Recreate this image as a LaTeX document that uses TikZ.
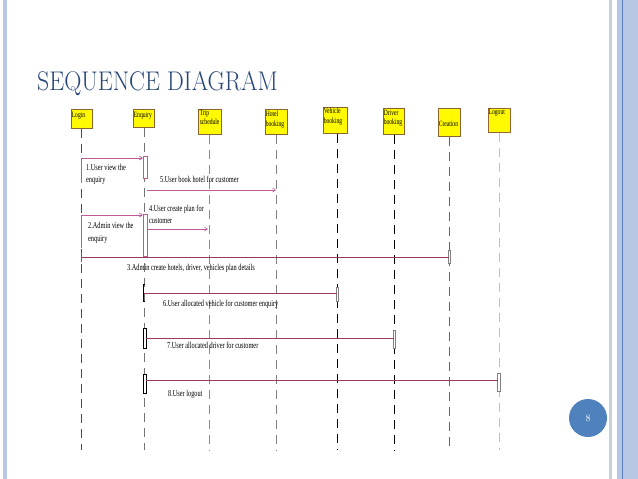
\documentclass[tikz,border=0pt]{standalone}
\usepackage{fontspec}
\usetikzlibrary{arrows.meta}
\newfontfamily\cond[FakeStretch=0.7]{Liberation Serif}
\definecolor{titleblue}{RGB}{40,70,120}
\definecolor{barblue}{RGB}{184,200,228}
\definecolor{bargray}{RGB}{200,206,220}
\definecolor{lineblue}{RGB}{90,125,190}
\definecolor{msgred}{RGB}{150,60,90}
\definecolor{msgpink}{RGB}{190,90,150}
\definecolor{headfill}{RGB}{255,250,0}
\definecolor{headdraw}{RGB}{140,100,50}
\definecolor{pagecircle}{RGB}{79,129,189}
\tikzset{
  headbox/.style={draw=headdraw, fill=headfill, line width=0.8pt, inner sep=0pt},
  headtxt/.style={font=\cond\fontsize{8}{9.5}\selectfont, align=left, anchor=north west, inner sep=1pt},
  lifeline/.style={dash pattern=on 9pt off 6pt, line width=0.7pt},
  msg/.style={draw=msgred, line width=0.6pt},
  msgarrow/.style={msg, -{Straight Barb[length=3pt,width=4pt]}},
  selfbox/.style={draw=msgpink, line width=0.7pt, -{Straight Barb[length=3pt,width=4pt]}},
  actpink/.style={draw=msgpink, line width=0.7pt, fill=white},
  actblack/.style={draw=black, line width=0.6pt, fill=white},
  actgray/.style={draw=gray, line width=0.6pt, fill=white},
  lbl/.style={font=\cond\fontsize{9}{12.5}\selectfont, anchor=base west, inner sep=0pt, align=left},
}
\begin{document}
\begin{tikzpicture}[x=1pt,y=-1pt]
\useasboundingbox (0,0) rectangle (638,479);
% slide frame
\fill[barblue] (3,0) rectangle (7,479);
\fill[bargray] (609,0) rectangle (612,479);
\fill[barblue] (617,0) rectangle (638,479);
\draw[lineblue, line width=0.8pt] (622,0) -- (622,479);
% title
\node[anchor=base west, inner sep=0pt, text=titleblue, font=\fontsize{27}{27}\selectfont] (title) at (37,90) {\scalebox{0.88}[1]{SEQUENCE DIAGRAM}};

% lifeline heads
\node[headbox, minimum width=21pt, minimum height=19pt, anchor=north] (hLogin) at (81.5,109) {};
\node[headbox, minimum width=21pt, minimum height=18pt, anchor=north] (hEnq) at (143.5,109) {};
\node[headbox, minimum width=23pt, minimum height=25pt, anchor=north] (hTrip) at (209.5,109) {};
\node[headbox, minimum width=22pt, minimum height=25pt, anchor=north] (hHotel) at (276,109) {};
\node[headbox, minimum width=24pt, minimum height=26pt, anchor=north] (hVeh) at (335,107) {};
\node[headbox, minimum width=21pt, minimum height=26pt, anchor=north] (hDrv) at (393.5,108) {};
\node[headbox, minimum width=22pt, minimum height=28pt, anchor=north] (hCre) at (449,108) {};
\node[headbox, draw=brown!80!black, line width=1pt, minimum width=22pt, minimum height=24pt, anchor=north] (hLgo) at (499,108) {};

\node[headtxt] (tLogin) at ([yshift=-2pt]hLogin.north west) {Login};
\node[headtxt] (tEnq) at ([yshift=-2pt]hEnq.north west) {Enquiry};
\node[headtxt] (tTrip) at ([xshift=1pt]hTrip.north west) {Trip\\schedule};
\node[headtxt] (tHotel) at ([yshift=-1pt]hHotel.north west) {Hotel\\booking};
\node[headtxt] (tVeh) at (hVeh.north west) {Vehicle\\booking};
\node[headtxt] (tDrv) at ([yshift=-1pt]hDrv.north west) {Driver\\booking};
\node[headtxt, anchor=west] (tCre) at ([yshift=-1pt]hCre.west) {Creation};
\node[headtxt] (tLgo) at (hLgo.north west) {Logout};

% lifeline ends
\coordinate (eLogin) at (81,450);
\coordinate (eEnq) at (144,450);
\coordinate (eTrip) at (209,450);
\coordinate (eHotel) at (276,450);
\coordinate (eVeh) at (337,450);
\coordinate (eDrv) at (394,450);
\coordinate (eCre) at (449,450);
\coordinate (eLgo) at (499,450);

\draw[lifeline, draw=black!70] (hLogin.south -| eLogin) -- (eLogin);
\draw[lifeline, draw=black!55] (hEnq.south -| eEnq) -- (eEnq);
\draw[lifeline, draw=black!45] (hTrip.south -| eTrip) -- (eTrip);
\draw[lifeline, draw=black!50] (hHotel.south -| eHotel) -- (eHotel);
\draw[lifeline, draw=black, line width=1pt] (hVeh.south -| eVeh) -- (eVeh);
\draw[lifeline, draw=black, line width=0.9pt] (hDrv.south -| eDrv) -- (eDrv);
\draw[lifeline, draw=black!60] (hCre.south -| eCre) -- (eCre);
\draw[lifeline, draw=black!25] (hLgo.south -| eLgo) -- (eLgo);

% message 1 (self box)
\coordinate (m1b) at (81,183);
\coordinate (m1a) at (81,158);
\coordinate (m1c) at (143,158);
\draw[actpink] (143,156) rectangle (147,178);
\draw[selfbox] (m1b) -- (m1a) -- (m1c);
\node[lbl] (l1) at (86,182.5) {1.User view the\\enquiry};

% message 5 (hotel)
\coordinate (m5a) at (147,190);
\coordinate (m5b) at (276,190);
\draw[msgarrow, draw=msgpink] (m5a) -- (m5b);
\node[lbl] (l5) at (160,182) {5.User book hotel for customer};

% message 2 (self box)
\coordinate (m2b) at (81,248);
\coordinate (m2a) at (81,215);
\coordinate (m2c) at (143,215);
\draw[actpink] (143,214) rectangle (147,256);
\draw[selfbox] (m2b) -- (m2a) -- (m2c);
\node[lbl] (l2) at (88,241) {2.Admin view the\\enquiry};

% message 4 (trip)
\coordinate (m4a) at (147,229);
\coordinate (m4b) at (208,229);
\draw[msgarrow, draw=msgpink] (m4a) -- (m4b);
\node[lbl] (l4) at (149,223.5) {4.User create plan for\\customer};

% message 3 (creation)
\coordinate (m3a) at (81,257);
\coordinate (m3b) at (449,257);
\draw[black!60, line width=0.5pt] (81,253) -- (81,262);
\draw[actgray] (448,250) rectangle (450,263);
\draw[msg] (m3a) -- (m3b);
\node[lbl] (l3) at (127,270) {3.Admin create hotels, driver, vehicles plan details};

% message 6 (vehicle)
\coordinate (m6a) at (144,293);
\coordinate (m6b) at (337,293);
\draw[black, line width=0.6pt] (145,284) -- (143,284) -- (143,301) -- (145,301);
\draw[actgray] (336,287) rectangle (338,301);
\draw[msg] (m6a) -- (m6b);
\node[lbl] (l6) at (163,306) {6.User allocated vehicle for customer enquiry};

% message 7 (driver)
\coordinate (m7a) at (146,338);
\coordinate (m7b) at (394,338);
\draw[actblack] (143,328) rectangle (146,348);
\draw[actgray] (393,330) rectangle (395,348);
\draw[msg] (m7a) -- (m7b);
\node[lbl] (l7) at (167,348) {7.User allocated driver for customer};

% message 8 (logout)
\coordinate (m8a) at (146,380);
\coordinate (m8b) at (498,380);
\draw[actblack] (143,374) rectangle (146,393);
\draw[actgray] (497,373) rectangle (500,391);
\draw[msg] (m8a) -- (m8b);
\node[lbl] (l8) at (168,396) {8.User logout};

% page number
\node[circle, fill=pagecircle, minimum size=38pt, inner sep=0pt, text=white, font=\fontsize{10}{10}\selectfont] (page) at (588,418) {8};
\end{tikzpicture}
\end{document}
